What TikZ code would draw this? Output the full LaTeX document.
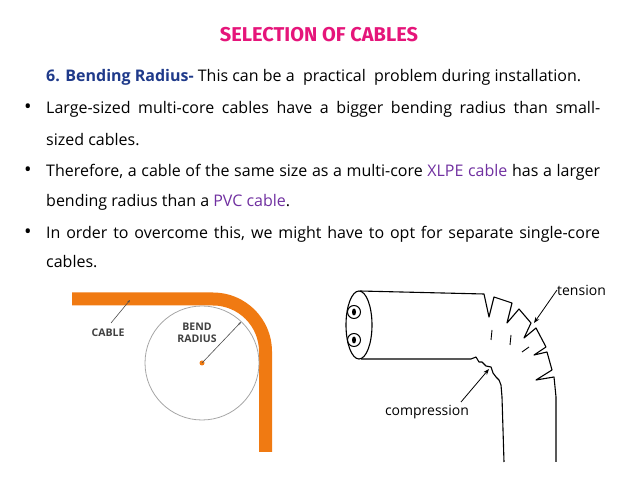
\documentclass[tikz,border=0pt]{standalone}
\usetikzlibrary{arrows.meta}
\usepackage{fontspec}
\setmainfont{Open Sans}
\newfontfamily\titlefont{Fira Sans}
\definecolor{ttl}{HTML}{E5157A}
\definecolor{hd}{HTML}{1F3A8A}
\definecolor{pur}{HTML}{7030A0}
\definecolor{org}{HTML}{F07A12}
\begin{document}
\begin{tikzpicture}[x=1pt,y=-1pt,
  body/.style={anchor=west,inner sep=0,font=\fontsize{16}{18}\selectfont},
  bul/.style={anchor=center,inner sep=0,font=\fontsize{20}{18}\selectfont},
  lbl/.style={inner sep=0,font=\fontsize{10.5}{12}\selectfont\bfseries,text=black!75,align=center},
  sk/.style={line width=1.1pt,line join=round}]
\useasboundingbox (0,0) rectangle (638,478);
\node[inner sep=0,font=\titlefont\fontsize{20}{22}\selectfont\bfseries,text=ttl] (t) at (319,35) {SELECTION OF CABLES};
\node[body] (l1) at (46,77) {\textcolor{hd}{\bfseries 6. Bending Radius-} This can be a \ practical \ problem during installation.};
\node[bul] (b1) at (28,109) {•};
\node[body] (l2) at (46,109) {\makebox[554pt][s]{Large-sized multi-core cables have a bigger bending radius than small-}};
\node[body] (l3) at (46,140) {sized cables.};
\node[bul] (b2) at (28,172) {•};
\node[body] (l4) at (46,172) {\makebox[554pt][s]{Therefore, a cable of the same size as a multi-core \textcolor{pur}{XLPE cable} has a larger}};
\node[body] (l5) at (46,202) {bending radius than a \textcolor{pur}{PVC cable}.};
\node[bul] (b3) at (28,234) {•};
\node[body] (l6) at (46,234) {\makebox[554pt][s]{In order to overcome this, we might have to opt for separate single-core}};
\node[body] (l7) at (46,262) {cables.};
% left diagram
\draw[org,line width=13pt] (72,299) -- (213,299) arc[start angle=-90,end angle=0,radius=52.5] -- (265.5,452);
\node[circle,draw=black!35,line width=0.8pt,minimum size=114pt,inner sep=0] (c) at (202,363) {};
\fill[org] (c.center) circle (2.5);
\node[lbl] (cl) at (108,333) {CABLE};
\node[lbl] (br) at (197,333) {BEND\\RADIUS};
\coordinate (ca) at (130,300);
\coordinate (ba) at (241,322);
\draw[black!70,line width=0.6pt,-{Stealth[length=3pt]}] (111,323) -- (ca);
\draw[black!70,line width=0.6pt,-{Stealth[length=3pt]}] (c.center) -- (ba);
% right diagram
\draw[sk] (359,325) ellipse[x radius=13,y radius=34];
\draw[line width=1pt] (354,312) circle (6.5) (354,340) circle (6.5);
\fill (354,312) ellipse[x radius=2,y radius=3.5] (354,340) ellipse[x radius=2,y radius=3.5];
\draw[sk] (360,291) -- (484,294) -- (489,317) -- (494,297) -- (512,303) -- (507,323) -- (519,309) -- (531,323) -- (524,338) -- (536,328) -- (546,347) -- (534,355) -- (547,352) -- (552,370) -- (536,380) -- (554,377) -- (556,397) -- (556,462);
\draw[sk] (361,359) -- (471,359) -- (476,357) -- (479,362) -- (482,362) -- (486,366) -- (491,367) -- (493,373) -- (496,377) -- (499,380) -- (501,385) -- (502,397) -- (504,462);
\draw[line width=0.9pt] (492,330) -- (491,340) (511,335) -- (510,345) (529,347) -- (522,352);
\node[inner sep=0,font=\fontsize{14}{15}\selectfont,anchor=west] (tn) at (557,290) {tension};
\node[inner sep=0,font=\fontsize{14}{15}\selectfont] (cp) at (427,412) {compression};
\coordinate (ta) at (534,323);
\coordinate (cpa) at (489,369);
\draw[line width=0.8pt,-{Stealth[length=6pt]}] (tn.west) -- (ta);
\draw[line width=0.8pt,-{Stealth[length=6pt]}] (461,402) -- (cpa);
\end{tikzpicture}
\end{document}
